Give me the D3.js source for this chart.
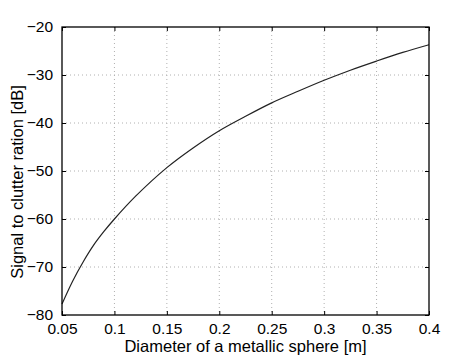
<!DOCTYPE html>
<html>
<head>
<meta charset="utf-8">
<script src="https://cdn.jsdelivr.net/npm/d3@7"></script>
<style>
  body { margin: 0; background: #fff; }
  svg { display: block; }
  text { font-family: "Liberation Sans", Arial, Helvetica, sans-serif; }
</style>
</head>
<body>
<div id="chart"></div>
<script>
// Data
const diameter = [0.05, 0.06, 0.07, 0.08, 0.09, 0.10, 0.12, 0.15, 0.175, 0.20, 0.225, 0.25, 0.275, 0.30, 0.325, 0.35, 0.375, 0.40];
const scr      = [-77.7, -73.0, -69.0, -65.5, -62.6, -60.0, -55.3, -49.3, -45.2, -41.6, -38.6, -35.8, -33.4, -31.1, -29.0, -27.1, -25.3, -23.7];
const xTicks = [0.05, 0.1, 0.15, 0.2, 0.25, 0.3, 0.35, 0.4];
const yTicks = [-80, -70, -60, -50, -40, -30, -20];
const xLabel = "Diameter of a metallic sphere [m]";
const yLabel = "Signal to clutter ration [dB]";

const W = 474, H = 356;
const m = { left: 62, top: 27, right: 45, bottom: 41 };
const iw = W - m.left - m.right, ih = H - m.top - m.bottom;

const svg = d3.select("#chart").append("svg").attr("width", W).attr("height", H);
const g = svg.append("g").attr("transform", `translate(${m.left},${m.top})`);

const x = d3.scaleLinear().domain([0.05, 0.4]).range([0, iw]);
const y = d3.scaleLinear().domain([-80, -20]).range([ih, 0]);

// grid
g.append("g").selectAll("line").data(xTicks.slice(1, -1)).join("line")
  .attr("x1", d => x(d)).attr("x2", d => x(d)).attr("y1", 0).attr("y2", ih)
  .attr("stroke", "#b0b0b0").attr("stroke-width", 1).attr("stroke-dasharray", "1,3");
g.append("g").selectAll("line").data(yTicks.slice(1, -1)).join("line")
  .attr("y1", d => y(d)).attr("y2", d => y(d)).attr("x1", 0).attr("x2", iw)
  .attr("stroke", "#b0b0b0").attr("stroke-width", 1).attr("stroke-dasharray", "1,3");

// curve
const line = d3.line().x((d, i) => x(diameter[i])).y(d => y(d)).curve(d3.curveCatmullRom.alpha(0.5));
g.append("path").datum(scr).attr("d", line)
  .attr("fill", "none").attr("stroke", "#222").attr("stroke-width", 1.2);

// axes
const fmt = d => String(d).replace("-", "\u2212");
const styleAxis = sel => {
  sel.select(".domain").remove();
  sel.selectAll(".tick line").attr("stroke", "#000");
  sel.selectAll(".tick text").attr("font-size", 15.5).attr("fill", "#000")
     .attr("font-family", '"Liberation Sans", Arial, sans-serif');
};
g.append("g").attr("transform", `translate(0,${ih})`)
  .call(d3.axisBottom(x).tickValues(xTicks).tickSize(-4).tickPadding(8).tickFormat(d => String(d)))
  .call(styleAxis);
g.append("g")
  .call(d3.axisTop(x).tickValues(xTicks).tickSize(-4).tickFormat(""))
  .call(styleAxis);
g.append("g")
  .call(d3.axisLeft(y).tickValues(yTicks).tickSize(-4).tickPadding(9).tickFormat(fmt))
  .call(styleAxis);
g.append("g").attr("transform", `translate(${iw},0)`)
  .call(d3.axisRight(y).tickValues(yTicks).tickSize(-4).tickFormat(""))
  .call(styleAxis);

// frame
g.append("rect").attr("width", iw).attr("height", ih)
  .attr("fill", "none").attr("stroke", "#000").attr("stroke-width", 1.3);

// labels
svg.append("text").attr("x", m.left + iw / 2).attr("y", 352)
  .attr("text-anchor", "middle").attr("font-size", 16.5).attr("fill", "#000").text(xLabel);
svg.append("text").attr("transform", `translate(23,182) rotate(-90)`)
  .attr("text-anchor", "middle").attr("font-size", 16.5).attr("fill", "#000").text(yLabel);
</script>
</body>
</html>
